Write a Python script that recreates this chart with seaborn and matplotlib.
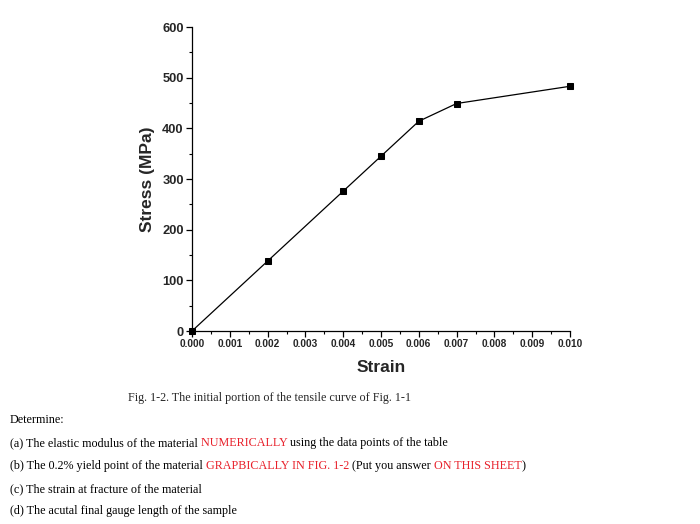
import numpy as np
import pandas as pd
import matplotlib
matplotlib.use("Agg")
import matplotlib.pyplot as plt
import seaborn as sns
from matplotlib.ticker import MultipleLocator

strain = [0.0, 0.002, 0.004, 0.005, 0.006, 0.007, 0.010]
stress = [0, 138, 276, 345, 414, 449, 483]
x_ticks = [0.000, 0.001, 0.002, 0.003, 0.004, 0.005, 0.006, 0.007, 0.008, 0.009, 0.010]
y_ticks = [0, 100, 200, 300, 400, 500, 600]

caption = "Fig. 1-2. The initial portion of the tensile curve of Fig. 1-1"
questions = [
    [("Determine:", "black")],
    [("(a) The elastic modulus of the material ", "black"), ("NUMERICALLY ", "#e8202a"),
     ("using the data points of the table", "black")],
    [("(b) The 0.2% yield point of the material ", "black"), ("GRAPBICALLY IN FIG. 1-2 ", "#e8202a"),
     ("(Put you answer ", "black"), ("ON THIS SHEET", "#e8202a"), (")", "black")],
    [("(c) The strain at fracture of the material", "black")],
    [("(d) The acutal final gauge length of the sample", "black")],
]

sns.set_theme(style="ticks")
plt.rcParams["font.family"] = ["Liberation Sans", "DejaVu Sans"]

df = pd.DataFrame({"Strain": strain, "Stress": stress})

fig = plt.figure(figsize=(7.0, 5.24), dpi=100)
ax = fig.add_axes([192 / 700, 1 - 331 / 524, (570 - 192) / 700, (331 - 27) / 524])
sns.lineplot(data=df, x="Strain", y="Stress", ax=ax, color="black", linewidth=0.9,
             marker="s", markersize=5, markeredgecolor="black", markerfacecolor="black",
             clip_on=False, zorder=5)

ax.set_xlim(0, 0.010)
ax.set_ylim(0, 600)
ax.set_xticks(x_ticks)
ax.set_yticks(y_ticks)
ax.set_xticklabels([f"{v:.3f}" for v in x_ticks], fontsize=7.3, fontweight="bold")
ax.set_yticklabels([str(v) for v in y_ticks], fontsize=9.3, fontweight="bold")
ax.xaxis.set_minor_locator(MultipleLocator(0.0005))
ax.yaxis.set_minor_locator(MultipleLocator(50))
ax.tick_params(which="major", direction="out", length=4, width=0.9, pad=2, color="black")
ax.tick_params(which="minor", direction="out", length=2.5, width=0.8, color="black")
sns.despine(ax=ax)
for s in ["left", "bottom"]:
    ax.spines[s].set_linewidth(0.9)
    ax.spines[s].set_color("black")
ax.set_xlabel("Strain", fontsize=12.5, fontweight="bold", labelpad=8)
ax.set_ylabel("Stress (MPa)", fontsize=12.5, fontweight="bold", labelpad=5)

serif = ["Liberation Serif", "DejaVu Serif"]
fs = 8.7
fig.text(270 / 700, 1 - 401 / 524, caption, ha="center", va="baseline",
         fontsize=fs, family=serif)

# each coloured piece is hooked onto the right end of the piece before it
line_y = [423, 446, 469, 492, 514]
for parts, yp in zip(questions, line_y):
    first = True
    for txt, col in parts:
        t = fig.text(10 / 700, 1 - yp / 524, txt, ha="left", va="baseline",
                     fontsize=fs, family=serif, color=col)
        t._chain = not first
        first = False

fig.canvas.draw()
renderer = fig.canvas.get_renderer()
texts = list(fig.texts)
for i, t in enumerate(texts):
    if getattr(t, "_chain", False):
        left = texts[i - 1]
        bb = left.get_window_extent(renderer)
        t.set_position((bb.x1 / fig.bbox.width, left.get_position()[1]))
        fig.canvas.draw()

fig.savefig("out.png", dpi=100)
